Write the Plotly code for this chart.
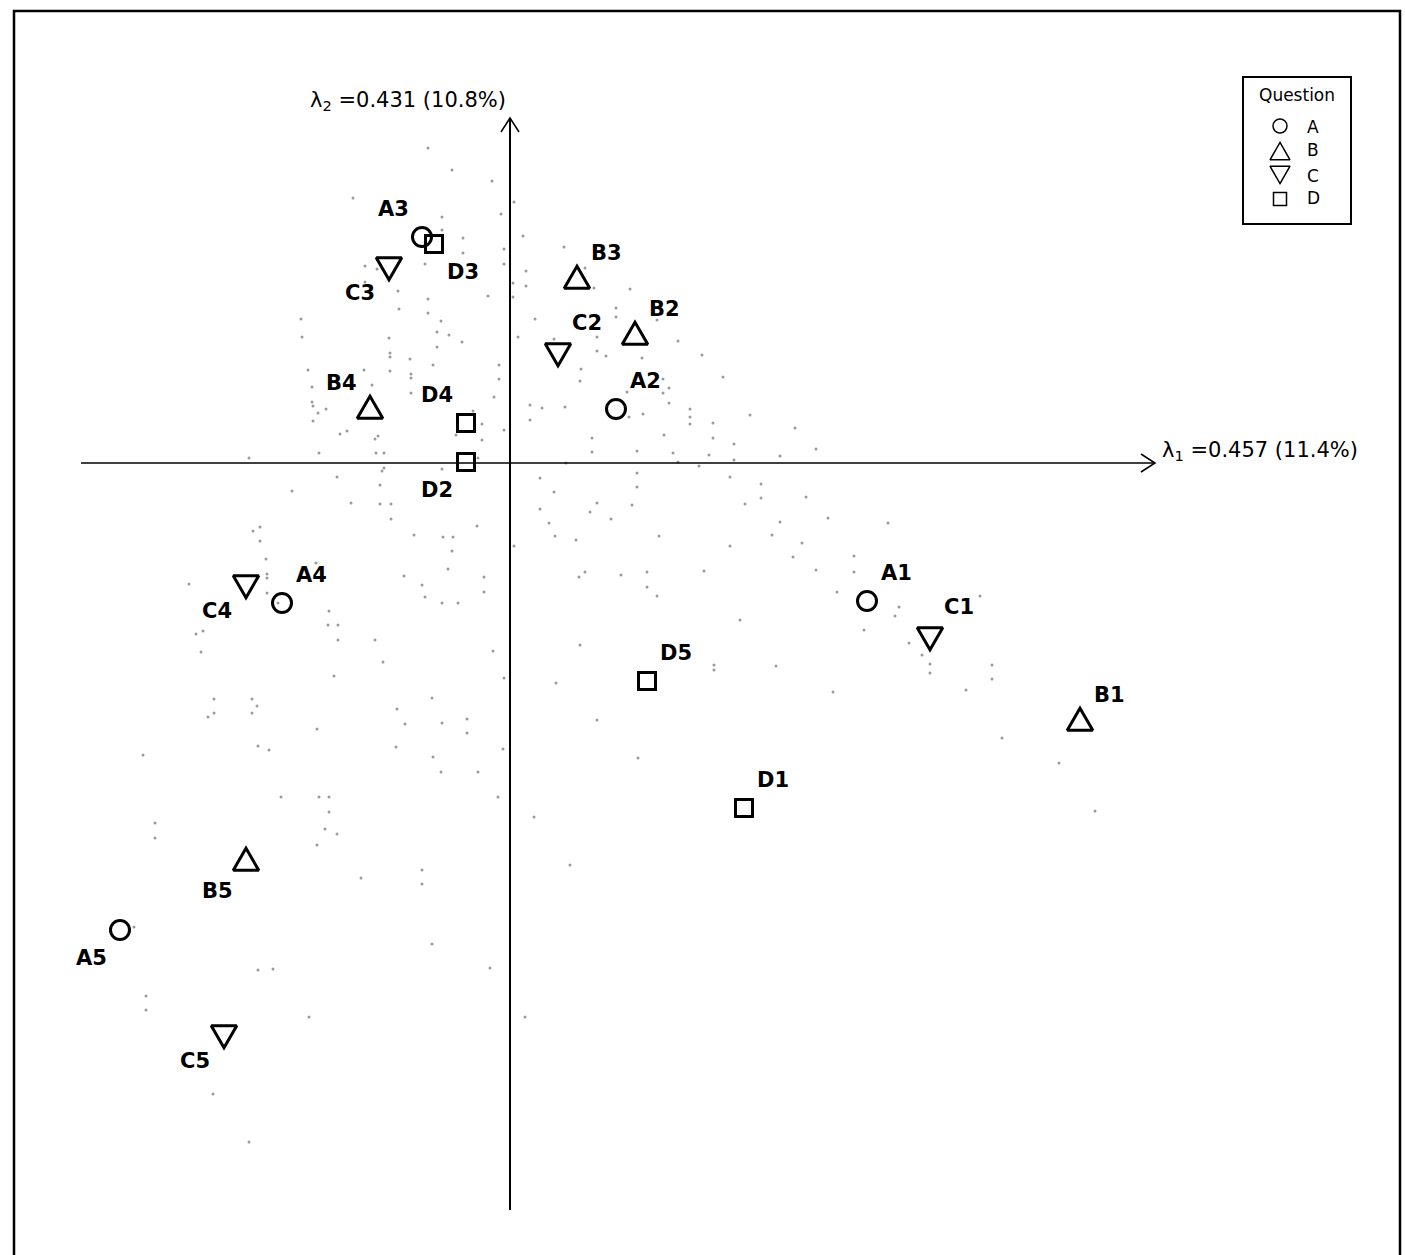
import plotly.graph_objects as go

# ---------------- data ----------------
# eigenvalues / inertia
eig1, pct1 = 0.457, 11.4
eig2, pct2 = 0.431, 10.8

# category (modalities) coordinates
cat_names = ["A1", "A2", "A3", "A4", "A5",
             "B1", "B2", "B3", "B4", "B5",
             "C1", "C2", "C3", "C4", "C5",
             "D1", "D2", "D3", "D4", "D5"]
cat_x = [0.714, 0.212, -0.176, -0.456, -0.780,
         1.140, 0.250, 0.134, -0.280, -0.528,
         0.840, 0.096, -0.242, -0.528, -0.572,
         0.468, -0.088, -0.152, -0.088, 0.274]
cat_y = [-0.276, 0.108, 0.452, -0.280, -0.934,
         -0.520, 0.252, 0.364, 0.104, -0.800,
         -0.344, 0.224, 0.396, -0.240, -1.140,
         -0.690, 0.002, 0.438, 0.080, -0.436]

# individuals coordinates
ind_x = [-0.164, -0.314, -0.290, -0.266, -0.290, -0.224, -0.170, -0.164, -0.222, -0.164,
         -0.418, -0.416, -0.242, -0.240, -0.240, -0.200, -0.240, -0.198, -0.198, -0.404,
         -0.292, -0.396, -0.276, -0.198, -0.396, -0.394, -0.368, -0.384, -0.394, -0.340,
         -0.326, -0.270, -0.264, -0.382, -0.268, -0.252, -0.522, -0.252, -0.256, -0.346,
         -0.116, -0.036, 0.008, -0.018, -0.136, 0.026, -0.094, -0.136, -0.012, -0.094,
         -0.012, 0.108, 0.032, 0.006, 0.032, 0.006, -0.044, 0.168, 0.240, 0.150,
         0.212, 0.212, 0.050, -0.138, -0.146, -0.122, -0.096, -0.146, 0.016, 0.088,
         0.174, 0.174, 0.192, 0.294, 0.264, 0.336, 0.384, 0.142, 0.140, -0.022,
         -0.022, -0.154, -0.032, 0.306, 0.306, 0.318, 0.318, 0.426, 0.234, 0.040,
         0.064, 0.110, 0.040, 0.238, 0.266, 0.360, 0.360, 0.360, 0.406, 0.480,
         0.570, -0.012, -0.074, -0.056, -0.056, -0.108, 0.164, 0.308, 0.406, 0.448,
         0.164, 0.254, 0.326, 0.398, 0.448, 0.540, 0.612, 0.336, 0.378, 0.112,
         -0.064, -0.136, 0.254, 0.440, 0.060,
         -0.436, -0.318, -0.260, -0.260, -0.238, -0.238, -0.192, -0.514, -0.500, -0.500,
         -0.488, -0.486, -0.486, -0.486, -0.642, -0.464, -0.388, -0.212, -0.176, -0.170,
         -0.362, -0.364, -0.344, -0.344, -0.270, -0.254, -0.628, -0.614, -0.618, -0.352,
         -0.592, -0.516, -0.506, -0.592, -0.604, -0.516, -0.386, -0.226, -0.210, -0.504,
         -0.482, -0.228, -0.734, -0.458, -0.382, -0.362, -0.362, -0.710, -0.370,
         0.088, 0.254, 0.502, 0.502, 0.592, 0.470, 0.636, 0.060, 0.174, 0.160,
         0.244, 0.078, 0.202, 0.090, 0.132, 0.298, 0.540, 0.524, 0.584, 0.566,
         0.440, -0.066, -0.134, -0.114, -0.116, -0.124, -0.052, -0.052, -0.136, -0.104,
         0.008, 0.138, 0.150, 0.222, 0.274, 0.274, 0.294, 0.388, 0.612, 0.460,
         0.140, -0.034, -0.012, 0.092, 0.408, 0.408, 0.532, -0.156, 0.174, -0.136,
         -0.086, -0.086, -0.014, -0.154, 0.256, -0.138, -0.064, -0.024, 0.048,
         0.756, 0.688, 0.688, 0.654, 0.778, 0.770, 0.708, 0.940, 0.798, 0.824,
         0.840, 0.840, 0.964, 0.964, 0.912, 0.646, 0.984, 1.098, 1.170,
         -0.710, -0.386, -0.346, -0.298, -0.176, -0.176, 0.120, -0.752, -0.156, -0.504,
         -0.474, -0.040, -0.728, -0.728, -0.402, 0.030, -0.594, -0.522]
ind_y = [0.630, 0.530, 0.394, 0.388, 0.362, 0.344, 0.398, 0.328, 0.308, 0.300,
         0.288, 0.252, 0.250, 0.220, 0.212, 0.208, 0.184, 0.178, 0.170, 0.186,
         0.186, 0.152, 0.156, 0.140, 0.122, 0.114, 0.108, 0.100, 0.084, 0.058,
         0.064, 0.048, 0.054, 0.020, 0.020, 0.020, 0.010, -0.010, -0.016, -0.028,
         0.586, 0.564, 0.522, 0.498, 0.492, 0.454, 0.450, 0.466, 0.428, 0.420,
         0.398, 0.432, 0.384, 0.360, 0.354, 0.332, 0.334, 0.350, 0.348, 0.390,
         0.310, 0.292, 0.288, 0.284, 0.262, 0.256, 0.242, 0.232, 0.252, 0.248,
         0.252, 0.224, 0.214, 0.286, 0.210, 0.244, 0.216, 0.188, 0.164, 0.196,
         0.168, 0.196, 0.132, 0.168, 0.140, 0.150, 0.120, 0.172, 0.142, 0.116,
         0.110, 0.112, 0.086, 0.092, 0.098, 0.108, 0.092, 0.078, 0.080, 0.096,
         0.070, 0.066, 0.104, 0.078, 0.046, 0.056, 0.050, 0.056, 0.050, 0.038,
         0.022, 0.024, 0.020, 0.016, 0.006, 0.014, 0.028, 0.002, -0.006, 0.000,
         0.010, -0.012, -0.020, -0.028, -0.030,
         -0.056, -0.080, -0.044, -0.082, -0.082, -0.112, -0.144, -0.136, -0.128, -0.156,
         -0.192, -0.222, -0.230, -0.260, -0.242, -0.280, -0.200, -0.226, -0.244, -0.268,
         -0.296, -0.324, -0.324, -0.354, -0.354, -0.398, -0.342, -0.336, -0.378, -0.426,
         -0.472, -0.472, -0.486, -0.500, -0.508, -0.500, -0.532, -0.492, -0.522, -0.566,
         -0.574, -0.568, -0.584, -0.668, -0.668, -0.668, -0.698, -0.720, -0.732,
         -0.058, -0.048, -0.042, -0.070, -0.068, -0.082, -0.110, -0.092, -0.080, -0.098,
         -0.084, -0.120, -0.112, -0.146, -0.154, -0.146, -0.118, -0.144, -0.160, -0.188,
         -0.166, -0.126, -0.148, -0.148, -0.176, -0.212, -0.228, -0.258, -0.280, -0.280,
         -0.166, -0.228, -0.218, -0.224, -0.218, -0.248, -0.266, -0.216, -0.214, -0.314,
         -0.364, -0.376, -0.430, -0.440, -0.404, -0.414, -0.406, -0.470, -0.514, -0.520,
         -0.512, -0.540, -0.572, -0.588, -0.590, -0.618, -0.618, -0.668, -0.708,
         -0.120, -0.186, -0.218, -0.258, -0.288, -0.306, -0.334, -0.266, -0.360, -0.384,
         -0.402, -0.420, -0.404, -0.432, -0.454, -0.458, -0.550, -0.600, -0.696,
         -0.750, -0.764, -0.742, -0.830, -0.814, -0.842, -0.804, -0.928, -0.962, -1.014,
         -1.012, -1.010, -1.066, -1.094, -1.108, -1.108, -1.262, -1.358]

questions = ["A", "B", "C", "D"]

# ---------------- layout / style ----------------
PX = 0.002  # data units per screen pixel (fixed 1405x1255 canvas, equal scale on x and y)
x_rng = [-1.02, 1.79]
y_rng = [-1.584, 0.926]

symbols = {"A": "circle-open", "D": "square-open"}
msize = {"A": 19, "D": 17}
tri_dir = {"B": 1, "C": -1}   # +1 = pointing up, -1 = pointing down

label_dir = {"A1": "NE", "A2": "NE", "A3": "NW", "A4": "NE", "A5": "SW",
             "B1": "NE", "B2": "NE", "B3": "NE", "B4": "NW", "B5": "SW",
             "C1": "NE", "C2": "NE", "C3": "SW", "C4": "SW", "C5": "SW",
             "D1": "NE", "D2": "SW", "D3": "SE", "D4": "NW", "D5": "NE"}


def triangle_lines(xs, ys, side_px, direction):
    """Closed equilateral triangles (centroid at each point) as a polyline."""
    s = side_px * PX
    h = s * 0.8660254
    lx, ly = [], []
    for x, y in zip(xs, ys):
        apex = (x, y + direction * 2 * h / 3)
        b1 = (x - s / 2, y - direction * h / 3)
        b2 = (x + s / 2, y - direction * h / 3)
        for p in (apex, b2, b1, apex, b2):
            lx.append(p[0])
            ly.append(p[1])
        lx.append(None)
        ly.append(None)
    return lx, ly


fig = go.Figure()

# individuals
fig.add_trace(go.Scatter(x=ind_x, y=ind_y, mode="markers",
                         marker=dict(size=3, color="#9a9a9a", line=dict(width=0)),
                         hoverinfo="skip", showlegend=False))

# categories
for q in questions:
    xs = [x for n, x in zip(cat_names, cat_x) if n[0] == q]
    ys = [y for n, y in zip(cat_names, cat_y) if n[0] == q]
    if q in tri_dir:
        lx, ly = triangle_lines(xs, ys, 25.5, tri_dir[q])
        fig.add_trace(go.Scatter(x=lx, y=ly, mode="lines",
                                 line=dict(color="black", width=3),
                                 hoverinfo="skip", showlegend=False, name=q))
    else:
        fig.add_trace(go.Scatter(x=xs, y=ys, mode="markers",
                                 marker=dict(symbol=symbols[q], size=msize[q], color="black",
                                             line=dict(width=3, color="black")),
                                 showlegend=False, name=q))

annotations = []
for n, x, y in zip(cat_names, cat_x, cat_y):
    d = label_dir[n]
    xs = 29 if "E" in d else -29
    ys = 28 if "N" in d else -28
    annotations.append(dict(x=x, y=y, xref="x", yref="y", text=n, showarrow=False,
                            xshift=xs, yshift=ys, xanchor="center", yanchor="middle",
                            font=dict(family="DejaVu Sans", size=21, color="black", weight="bold")))

# axes lines with open arrow heads
ax_x0, ax_x1 = -0.858, 1.290
ax_y0, ax_y1 = -1.494, 0.690
line_col = "black"
shapes = [
    dict(type="line", xref="x", yref="y", x0=ax_x0, x1=ax_x1, y0=0, y1=0,
         line=dict(color=line_col, width=1.5)),
    dict(type="line", xref="x", yref="y", x0=0, x1=0, y0=ax_y0, y1=ax_y1,
         line=dict(color=line_col, width=2)),
    dict(type="path", xref="x", yref="y",
         path=f"M{ax_x1-14*PX},{9*PX} L{ax_x1},0 L{ax_x1-14*PX},{-9*PX}",
         line=dict(color=line_col, width=1.5)),
    dict(type="path", xref="x", yref="y",
         path=f"M{-9*PX},{ax_y1-14*PX} L0,{ax_y1} L{9*PX},{ax_y1-14*PX}",
         line=dict(color=line_col, width=1.5)),
    # outer frame
    dict(type="rect", xref="x", yref="y", x0=-0.992, x1=1.780, y0=-1.70, y1=0.904,
         line=dict(color="black", width=2.5)),
]

annotations.append(dict(x=-2 * PX, y=0.724, xref="x", yref="y", showarrow=False,
                        text="λ<sub>2</sub> =%.3f (%.1f%%)" % (eig2, pct2),
                        xanchor="right", yanchor="middle",
                        font=dict(family="DejaVu Sans", size=21, color="black")))
annotations.append(dict(x=ax_x1 + 5 * PX, y=0.024, xref="x", yref="y", showarrow=False,
                        text="λ<sub>1</sub> =%.3f (%.1f%%)" % (eig1, pct1),
                        xanchor="left", yanchor="middle",
                        font=dict(family="DejaVu Sans", size=21, color="black")))

# custom legend box
lg_x0, lg_x1, lg_y0, lg_y1 = 1.466, 1.682, 0.478, 0.772
shapes.append(dict(type="rect", xref="x", yref="y", x0=lg_x0, x1=lg_x1, y0=lg_y0, y1=lg_y1,
                   line=dict(color="black", width=2), fillcolor="white", layer="below"))
annotations.append(dict(x=(lg_x0 + lg_x1) / 2, y=0.736, xref="x", yref="y", showarrow=False,
                        text="Question", xanchor="center", yanchor="middle",
                        font=dict(family="DejaVu Sans", size=17, color="black")))
leg_text_y = [0.672, 0.626, 0.574, 0.530]
leg_sym_y = [0.674, 0.618, 0.582, 0.528]
leg_sym_x = 1.540
leg_size = {"A": 14, "D": 13}
for q, ty, sy in zip(questions, leg_text_y, leg_sym_y):
    if q in tri_dir:
        lx, ly = triangle_lines([leg_sym_x], [sy], 20, tri_dir[q])
        fig.add_trace(go.Scatter(x=lx, y=ly, mode="lines",
                                 line=dict(color="black", width=1.5),
                                 hoverinfo="skip", showlegend=False))
    else:
        fig.add_trace(go.Scatter(x=[leg_sym_x], y=[sy], mode="markers",
                                 marker=dict(symbol=symbols[q], size=leg_size[q], color="black",
                                             line=dict(width=1.5, color="black")),
                                 hoverinfo="skip", showlegend=False))
    annotations.append(dict(x=1.606, y=ty, xref="x", yref="y", showarrow=False, text=q,
                            xanchor="center", yanchor="middle",
                            font=dict(family="DejaVu Sans", size=17, color="black")))

fig.update_layout(
    width=1405, height=1255,
    margin=dict(l=0, r=0, t=0, b=0),
    paper_bgcolor="white", plot_bgcolor="white",
    xaxis=dict(range=x_rng, visible=False, fixedrange=True),
    yaxis=dict(range=y_rng, visible=False, fixedrange=True),
    shapes=shapes, annotations=annotations,
    showlegend=False,
)

fig.write_html("out.html", config={"displayModeBar": False},
               post_script="document.body.style.margin='0px';document.body.style.overflow='hidden';")
